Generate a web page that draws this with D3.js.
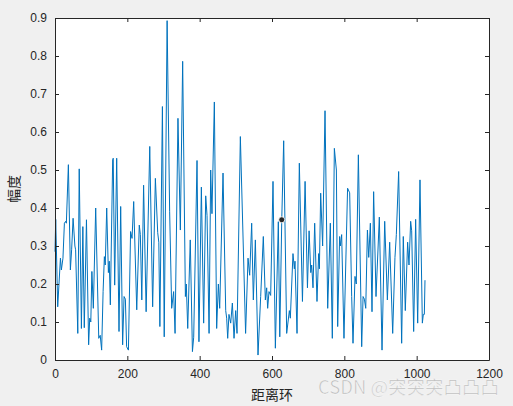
<!DOCTYPE html>
<html>
<head>
<meta charset="utf-8">
<script src="https://cdn.jsdelivr.net/npm/d3@7"></script>
<style>
  body { margin: 0; background: #f0f0f0; }
  svg { display: block; }
</style>
</head>
<body>
<div id="chart"></div>
<script>
// distance ring index and amplitude (peaks / troughs)
var ringX = [0, 2, 7.5, 15, 17.6, 22, 26, 29.6, 31.4, 37, 42.5, 46, 50, 55, 57, 63, 67, 73, 77, 81, 87, 93, 96, 99, 102, 106,
  112.5, 121, 125, 129, 133, 136.5, 139, 143, 147.6, 150, 153, 159.5, 161, 165, 170.6, 177, 181.6, 187, 191, 194.6, 198, 203,
  209, 213, 217.6, 221, 226, 233, 236, 240, 245, 252, 262, 270, 277.5, 284, 287, 290, 297, 302, 310, 317, 322.6, 328, 332,
  340, 346.6, 353, 360.5, 363, 367, 374, 380, 383.5, 392.7, 398, 404.7, 411, 416.7, 420.4, 426, 430.5, 434, 440.6, 447, 451.7,
  455.4, 464.6, 472, 474.7, 477.5, 481, 485.8, 490.4, 495, 499.6, 503.3, 512.5, 527, 533.7, 538.3, 543.8, 548.4, 554, 561.3,
  568.7, 576, 581.6, 585.3, 588, 591.7, 596.3, 602.8, 609.3, 617.5, 621.5, 627, 632.3, 640.6, 648, 650.7, 658, 661.8, 663.6,
  669.2, 675.6, 684.2, 691.5, 698, 702.6, 707.2, 709.7, 713.4, 718, 724.4, 729, 731, 734.6, 740, 746.6, 754, 761.3, 766.8,
  772.4, 778, 781.6, 787, 789, 792.6, 799, 809, 814.8, 820.3, 824, 829.5, 833, 838.8, 848, 851.8, 855.5, 859.2, 863.8, 867.5,
  872, 876.5, 881, 887.6, 896.8, 904.2, 911.6, 919, 925.4, 933.7, 940, 943.8, 950.2, 958.5, 963, 968.6, 975, 978.8, 983.4,
  986.2, 991.7, 997.2, 1002.8, 1009.2, 1015.7, 1018.4, 1021.2, 1023];
var amplitude = [0.285, 0.37, 0.14, 0.268, 0.237, 0.268, 0.36, 0.365, 0.36, 0.514, 0.237, 0.29, 0.373, 0.30, 0.29, 0.07,
  0.503, 0.083, 0.351, 0.085, 0.369, 0.04, 0.11, 0.10, 0.233, 0.136, 0.40, 0.057, 0.065, 0.026, 0.18, 0.272, 0.25, 0.40,
  0.23, 0.26, 0.145, 0.527, 0.531, 0.197, 0.531, 0.075, 0.404, 0.04, 0.167, 0.16, 0.035, 0.026, 0.338, 0.32, 0.417, 0.30,
  0.132, 0.355, 0.33, 0.158, 0.46, 0.127, 0.562, 0.14, 0.478, 0.335, 0.31, 0.088, 0.667, 0.061, 0.893, 0.39, 0.136, 0.18,
  0.07, 0.636, 0.342, 0.786, 0.167, 0.2, 0.083, 0.316, 0.022, 0.06, 0.525, 0.048, 0.455, 0.097, 0.432, 0.38, 0.07, 0.50,
  0.385, 0.679, 0.083, 0.20, 0.136, 0.492, 0.13, 0.11, 0.057, 0.12, 0.097, 0.15, 0.057, 0.13, 0.07, 0.588, 0.07, 0.268,
  0.223, 0.36, 0.158, 0.316, 0.013, 0.167, 0.325, 0.158, 0.19, 0.136, 0.18, 0.17, 0.47, 0.031, 0.364, 0.061, 0.369, 0.577,
  0.07, 0.13, 0.11, 0.28, 0.24, 0.26, 0.07, 0.518, 0.154, 0.47, 0.19, 0.34, 0.23, 0.25, 0.19, 0.36, 0.154, 0.28, 0.24,
  0.439, 0.30, 0.656, 0.136, 0.36, 0.057, 0.557, 0.50, 0.088, 0.325, 0.30, 0.33, 0.057, 0.452, 0.44, 0.167, 0.044, 0.22,
  0.20, 0.54, 0.035, 0.167, 0.16, 0.136, 0.342, 0.27, 0.36, 0.127, 0.443, 0.167, 0.376, 0.026, 0.365, 0.158, 0.31, 0.07,
  0.27, 0.33, 0.496, 0.044, 0.325, 0.13, 0.31, 0.25, 0.365, 0.34, 0.075, 0.37, 0.097, 0.474, 0.097, 0.12, 0.12, 0.21];

var xTicks = [0, 200, 400, 600, 800, 1000, 1200];
var yTicks = [0, 0.1, 0.2, 0.3, 0.4, 0.5, 0.6, 0.7, 0.8, 0.9];
var tipPoint = [627, 0.369];   // data tip marker

var data = ringX.map(function(d, i) { return {x: d, y: amplitude[i]}; });

var margin = {top: 18, right: 24, bottom: 46, left: 55},
    width = 513 - margin.left - margin.right,
    height = 406 - margin.top - margin.bottom;

var svg = d3.select("#chart").append("svg")
    .attr("width", 513)
    .attr("height", 406);

var g = svg.append("g")
    .attr("transform", "translate(" + margin.left + "," + margin.top + ")");

var x = d3.scaleLinear().domain([0, 1200]).range([0, width]);
var y = d3.scaleLinear().domain([0, 0.9]).range([height, 0]);

// white axes area
g.append("rect")
    .attr("width", width)
    .attr("height", height)
    .attr("fill", "#fff");

// the line
var line = d3.line()
    .x(function(d) { return x(d.x); })
    .y(function(d) { return y(d.y); });

g.append("path")
    .datum(data)
    .attr("fill", "none")
    .attr("stroke", "#0072bd")
    .attr("stroke-width", 1)
    .attr("stroke-linejoin", "round")
    .attr("d", line);

// axes, ticks pointing inward on all four sides
function styleAxis(sel) {
  sel.attr("font-family", "Liberation Sans, Arial, sans-serif").attr("font-size", 12);
  sel.select(".domain").attr("stroke", "#262626");
  sel.selectAll(".tick line").attr("stroke", "#262626");
  sel.selectAll(".tick text").attr("fill", "#262626");
}

g.append("g")
    .attr("transform", "translate(0," + height + ")")
    .call(d3.axisBottom(x).tickValues(xTicks).tickSizeInner(-4).tickSizeOuter(0).tickPadding(9)
      .tickFormat(d3.format("d")))
    .call(styleAxis);

g.append("g")
    .call(d3.axisTop(x).tickValues(xTicks).tickSizeInner(-4).tickSizeOuter(0).tickFormat(""))
    .call(styleAxis);

g.append("g")
    .call(d3.axisLeft(y).tickValues(yTicks).tickSizeInner(-4).tickSizeOuter(0).tickPadding(8)
      .tickFormat(function(d) { return d === 0 ? "0" : d3.format(".1f")(d); }))
    .call(styleAxis);

g.append("g")
    .attr("transform", "translate(" + width + ",0)")
    .call(d3.axisRight(y).tickValues(yTicks).tickSizeInner(-4).tickSizeOuter(0).tickFormat(""))
    .call(styleAxis);

// data tip marker
g.append("circle")
    .attr("cx", x(tipPoint[0]))
    .attr("cy", y(tipPoint[1]))
    .attr("r", 3)
    .attr("fill", "#262626")
    .attr("stroke", "#fff")
    .attr("stroke-width", 0.8);

// axis titles
svg.append("text")
    .attr("x", margin.left + width / 2)
    .attr("y", 400)
    .attr("text-anchor", "middle")
    .attr("font-family", "Noto Sans CJK SC")
    .attr("font-size", 14)
    .attr("fill", "#262626")
    .text("距离环");

svg.append("text")
    .attr("transform", "translate(19," + (margin.top + height / 2) + ") rotate(-90)")
    .attr("text-anchor", "middle")
    .attr("font-family", "Noto Sans CJK SC")
    .attr("font-size", 14)
    .attr("fill", "#262626")
    .text("幅度");

// watermark
svg.append("text")
    .attr("x", 499)
    .attr("y", 394)
    .attr("text-anchor", "end")
    .attr("font-family", "Noto Sans CJK SC")
    .attr("font-size", 18.5)
    .attr("fill", "#bcbcbc")
    .attr("stroke", "#ffffff")
    .attr("stroke-width", 0.7)
    .attr("stroke-opacity", 0.7)
    .text("CSDN @突突突凸凸凸");
</script>
</body>
</html>
